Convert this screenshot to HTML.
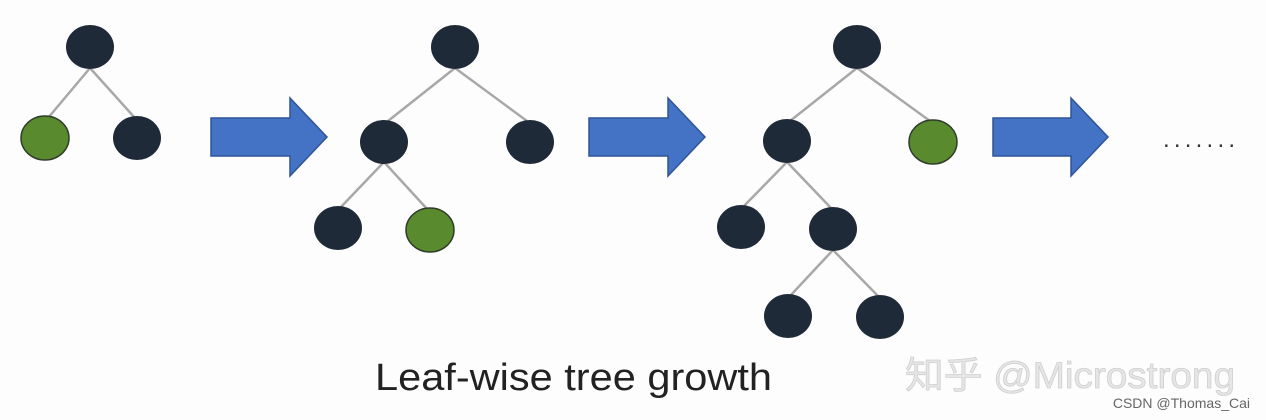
<!DOCTYPE html>
<html><head><meta charset="utf-8"><style>
html,body{margin:0;padding:0;background:#fff;}
svg{display:block;}
</style></head><body>
<svg width="1266" height="420" viewBox="0 0 1266 420" xmlns="http://www.w3.org/2000/svg">
<rect width="1266" height="420" fill="#fdfdfd"/>
<g stroke="#a8a8a8" stroke-width="2.5">
<line x1="90" y1="68" x2="48" y2="118"/><line x1="90" y1="68" x2="135" y2="118"/>
<line x1="455" y1="68" x2="388" y2="121"/><line x1="455" y1="68" x2="527" y2="121"/>
<line x1="384" y1="162" x2="340" y2="208"/><line x1="384" y1="162" x2="428" y2="210"/>
<line x1="857" y1="68" x2="790" y2="121"/><line x1="857" y1="68" x2="930" y2="121"/>
<line x1="787" y1="162" x2="743" y2="207"/><line x1="787" y1="162" x2="831" y2="208"/>
<line x1="833" y1="250" x2="790" y2="296"/><line x1="833" y1="250" x2="878" y2="296"/>
</g>
<g fill="#1f2a38">
<ellipse cx="90" cy="47" rx="24" ry="22"/>
<ellipse cx="137" cy="138" rx="24" ry="22"/>
<ellipse cx="455" cy="47" rx="24" ry="22"/>
<ellipse cx="384" cy="142" rx="24" ry="22"/>
<ellipse cx="530" cy="142" rx="24" ry="22"/>
<ellipse cx="338" cy="228" rx="24" ry="22"/>
<ellipse cx="857" cy="47" rx="24" ry="22"/>
<ellipse cx="787" cy="141" rx="24" ry="22"/>
<ellipse cx="741" cy="227" rx="24" ry="22"/>
<ellipse cx="833" cy="229" rx="24" ry="22"/>
<ellipse cx="788" cy="316" rx="24" ry="22"/>
<ellipse cx="880" cy="317" rx="24" ry="22"/>
</g>
<g fill="#5a8a2e" stroke="#2f3d2a" stroke-width="1.5">
<ellipse cx="45" cy="138" rx="24" ry="22"/>
<ellipse cx="430" cy="230" rx="24" ry="22"/>
<ellipse cx="933" cy="142" rx="24" ry="22"/>
</g>
<g fill="#4472c4" stroke="#2f5597" stroke-width="1.5">
<polygon points="211,118 290,118 290,98 327,137 290,176 290,156 211,156"/>
<polygon points="589,118 668,118 668,98 705,137 668,176 668,156 589,156"/>
<polygon points="993,118 1071,118 1071,98 1108,137 1071,176 1071,156 993,156"/>
</g>
<text x="1163" y="147" font-family="Liberation Sans, sans-serif" font-size="24" fill="#333" textLength="72" lengthAdjust="spacing">.......</text>
<text x="375" y="390" font-family="Liberation Sans, sans-serif" font-size="38" fill="#222" textLength="397" lengthAdjust="spacingAndGlyphs">Leaf-wise tree growth</text>
<text x="905" y="388" font-family="Liberation Sans, 'Noto Sans CJK SC', sans-serif" font-size="37" fill="#e6e6e6" stroke="#cfcfcf" stroke-width="0.8" textLength="330" lengthAdjust="spacingAndGlyphs">知乎 @Microstrong</text>
<text x="1250" y="408" text-anchor="end" font-family="Liberation Sans, sans-serif" font-size="14" fill="#666">CSDN @Thomas_Cai</text>
</svg>
</body></html>
